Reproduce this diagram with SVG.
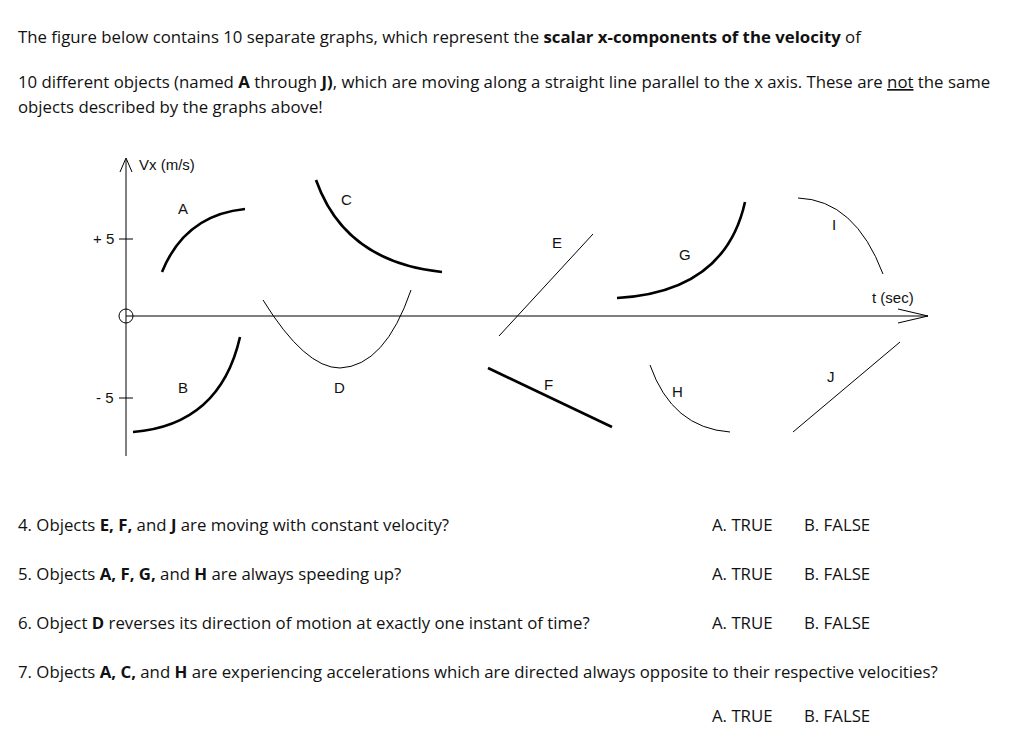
<svg xmlns="http://www.w3.org/2000/svg" width="1024" height="742" viewBox="0 0 1024 742">
<style>
.t{font-family:"Open Sans","Liberation Sans",sans-serif;font-size:16.8px;fill:#111}
.g{font-family:"Liberation Sans",Arial,sans-serif;font-size:15px;fill:#111}
.c{fill:none;stroke:#000;stroke-width:2.6}
.l{fill:none;stroke:#000;stroke-width:1}
</style>
<rect width="1024" height="742" fill="#fff"/>
<text class="t" x="18" y="43">The figure below contains 10 separate graphs, which represent the <tspan font-weight="bold">scalar x-components of the velocity</tspan> of</text>
<text class="t" x="18" y="88">10 different objects (named <tspan font-weight="bold">A</tspan> through <tspan font-weight="bold">J)</tspan>, which are moving along a straight line parallel to the x axis. These are <tspan text-decoration="underline">not</tspan> the same</text>
<text class="t" x="18" y="113">objects described by the graphs above!</text>
<g id="axes">
<line class="l" x1="126" y1="160" x2="126" y2="456"/>
<polyline class="l" points="120,172 126,158 132,172"/>
<line class="l" x1="126" y1="316" x2="928" y2="316"/>
<polyline class="l" points="898,309 928,316 898,323"/>
<circle class="l" cx="126" cy="316" r="7"/>
<line class="l" x1="119" y1="239" x2="133" y2="239"/>
<line class="l" x1="119" y1="398" x2="133" y2="398"/>
<text class="g" x="93" y="244">+ 5</text>
<text class="g" x="96" y="403">- 5</text>
<text class="g" x="139" y="170">Vx (m/s)</text>
<text class="g" x="872" y="303">t (sec)</text>
</g>
<g id="curves">
<path class="c" d="M162,272 Q185,215 245,209"/>
<path class="c" d="M133,432 Q220,425 240,337"/>
<path class="c" d="M316,180 Q345,262 442,272"/>
<path class="l" d="M263,300 Q305,368 340,368 Q385,366 411,290"/>
<line class="l" x1="499" y1="336" x2="593" y2="234"/>
<line class="c" x1="488" y1="368" x2="612" y2="427"/>
<path class="c" d="M617,298 Q725,292 745,202"/>
<path class="l" d="M650,365 Q672,428 730,432"/>
<path class="l" d="M798,198 Q855,200 883,274"/>
<line class="l" x1="793" y1="432" x2="900" y2="342"/>
</g>
<g class="g">
<text x="178" y="214">A</text><text x="178" y="393">B</text>
<text x="341" y="205">C</text><text x="334" y="393">D</text>
<text x="552" y="248">E</text><text x="544" y="390">F</text>
<text x="679" y="260">G</text><text x="672" y="397">H</text>
<text x="832" y="230">I</text><text x="827" y="382">J</text>
</g>
<text class="t" x="18" y="531">4. Objects <tspan font-weight="bold">E, F,</tspan> and <tspan font-weight="bold">J</tspan> are moving with constant velocity?</text>
<text class="t" x="18" y="580">5. Objects <tspan font-weight="bold">A, F, G,</tspan> and <tspan font-weight="bold">H</tspan> are always speeding up?</text>
<text class="t" x="18" y="629">6. Object <tspan font-weight="bold">D</tspan> reverses its direction of motion at exactly one instant of time?</text>
<text class="t" x="18" y="678">7. Objects <tspan font-weight="bold">A, C,</tspan> and <tspan font-weight="bold">H</tspan> are experiencing accelerations which are directed always opposite to their respective velocities?</text>
<g class="t">
<text x="712" y="531">A. TRUE</text><text x="804" y="531">B. FALSE</text>
<text x="712" y="580">A. TRUE</text><text x="804" y="580">B. FALSE</text>
<text x="712" y="629">A. TRUE</text><text x="804" y="629">B. FALSE</text>
<text x="712" y="722">A. TRUE</text><text x="804" y="722">B. FALSE</text>
</g>
</svg>
